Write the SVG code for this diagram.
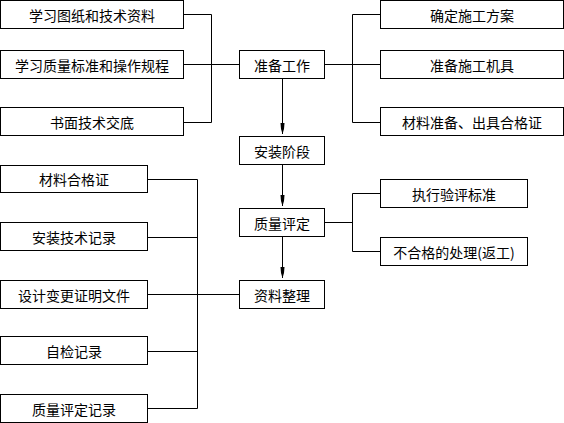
<svg xmlns="http://www.w3.org/2000/svg" width="564" height="423" viewBox="0 0 564 423">
<style>
rect.b{fill:#fff;stroke:#000;stroke-width:1}
text{font-family:"Noto Sans CJK SC","Liberation Sans",sans-serif;font-size:14px;fill:#000;text-anchor:middle;dominant-baseline:central}
.c line,.c polyline{stroke:#000;stroke-width:1;fill:none}
</style>
<defs>
<marker id="ah" markerWidth="12" markerHeight="6" refX="11" refY="3" orient="auto" markerUnits="userSpaceOnUse" viewBox="0 0 12 6">
<polygon points="0,1 0,5 6,4.5 11,3 6,1.5" fill="#000"/>
</marker>
</defs>
<rect width="564" height="423" fill="#fff"/>
<g class="c" id="connectors">
<polyline points="183,14.5 211.5,14.5 211.5,122.5 183,122.5"/>
<line x1="183" y1="64.5" x2="239" y2="64.5"/>
<polyline points="380,14.5 352.5,14.5 352.5,122.5 380,122.5"/>
<line x1="324" y1="64.5" x2="380" y2="64.5"/>
<line x1="282.5" y1="79" x2="282.5" y2="134" marker-end="url(#ah)"/>
<line x1="282.5" y1="165" x2="282.5" y2="206" marker-end="url(#ah)"/>
<line x1="282.5" y1="236" x2="282.5" y2="278" marker-end="url(#ah)"/>
<line x1="324" y1="222.5" x2="352.5" y2="222.5"/>
<polyline points="380,193.5 352.5,193.5 352.5,251.5 380,251.5"/>
<polyline points="148,179.5 197.5,179.5 197.5,408.5 148,408.5"/>
<line x1="148" y1="237.5" x2="197.5" y2="237.5"/>
<line x1="148" y1="351.5" x2="197.5" y2="351.5"/>
<line x1="148" y1="294.5" x2="239" y2="294.5"/>
</g>
<g id="n1"><rect class="b" x="0.5" y="0.5" width="183" height="28"/><text x="92" y="14.5">学习图纸和技术资料</text></g>
<g id="n2"><rect class="b" x="0.5" y="50.5" width="183" height="28"/><text x="92" y="64.5">学习质量标准和操作规程</text></g>
<g id="n3"><rect class="b" x="0.5" y="107.5" width="183" height="28"/><text x="92" y="121.5">书面技术交底</text></g>
<g id="n4"><rect class="b" x="239.5" y="50.5" width="85" height="28"/><text x="282" y="64.5">准备工作</text></g>
<g id="n5"><rect class="b" x="380.5" y="0.5" width="183" height="28"/><text x="472" y="14.5">确定施工方案</text></g>
<g id="n6"><rect class="b" x="380.5" y="50.5" width="183" height="28"/><text x="472" y="64.5">准备施工机具</text></g>
<g id="n7"><rect class="b" x="380.5" y="107.5" width="183" height="28"/><text x="472" y="121.5">材料准备、出具合格证</text></g>
<g id="n8"><rect class="b" x="239.5" y="136.5" width="85" height="28"/><text x="282" y="150.5">安装阶段</text></g>
<g id="n9"><rect class="b" x="239.5" y="208.5" width="85" height="28"/><text x="282" y="222.5">质量评定</text></g>
<g id="n10"><rect class="b" x="239.5" y="280.5" width="85" height="28"/><text x="282" y="294.5">资料整理</text></g>
<g id="n11"><rect class="b" x="380.5" y="179.5" width="147" height="28"/><text x="454" y="193.5">执行验评标准</text></g>
<g id="n12"><rect class="b" x="380.5" y="237.5" width="147" height="28"/><text x="454" y="251.5">不合格的处理(返工)</text></g>
<g id="n13"><rect class="b" x="0.5" y="165.5" width="147" height="27"/><text x="74" y="179">材料合格证</text></g>
<g id="n14"><rect class="b" x="0.5" y="222.5" width="147" height="28"/><text x="74" y="236.5">安装技术记录</text></g>
<g id="n15"><rect class="b" x="0.5" y="280.5" width="147" height="28"/><text x="74" y="294.5">设计变更证明文件</text></g>
<g id="n16"><rect class="b" x="0.5" y="336.5" width="147" height="28"/><text x="74" y="350.5">自检记录</text></g>
<g id="n17"><rect class="b" x="0.5" y="394.5" width="147" height="28"/><text x="74" y="408.5">质量评定记录</text></g>
</svg>
